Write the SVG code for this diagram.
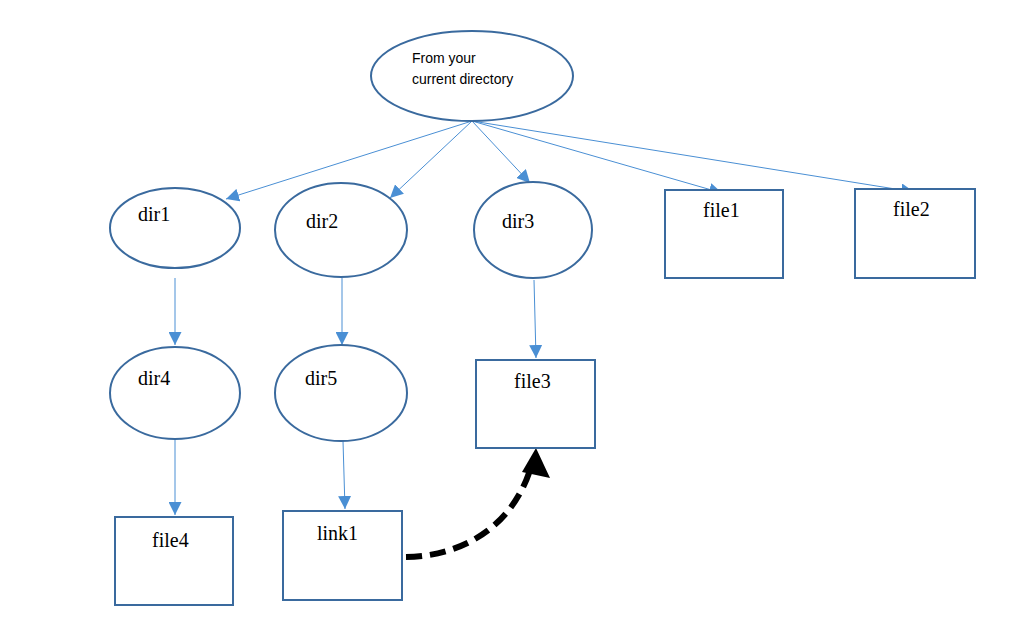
<svg xmlns="http://www.w3.org/2000/svg" width="1024" height="619" viewBox="0 0 1024 619">
<defs>
<marker id="a" viewBox="0 0 10 10" refX="10" refY="5" markerWidth="13" markerHeight="13" markerUnits="userSpaceOnUse" orient="auto"><path d="M0,0L10,5L0,10z" fill="#4a8fd4"/></marker>
<style>
.n{fill:#fff;stroke:#3a6a9e;stroke-width:2}
.t{font-family:"Liberation Serif",serif;font-size:20px;fill:#000}
.s{font-family:"Liberation Sans",sans-serif;font-size:14px;fill:#000}
.c line{stroke:#4a8fd4;stroke-width:1;marker-end:url(#a)}
</style>
</defs>
<rect width="1024" height="619" fill="#fff"/>
<g class="c" id="connectors">
<line x1="472" y1="121" x2="226" y2="199"/>
<line x1="472" y1="121" x2="390" y2="198"/>
<line x1="472" y1="121" x2="530" y2="183"/>
<line x1="472" y1="121" x2="722" y2="193"/>
<line x1="472" y1="121" x2="914" y2="192"/>
<line x1="175" y1="278" x2="175" y2="345"/>
<line x1="342" y1="278" x2="342" y2="345"/>
<line x1="534" y1="280" x2="536" y2="358"/>
<line x1="175" y1="440" x2="175" y2="515"/>
<line x1="343" y1="441" x2="345" y2="509"/>
<path d="M406,557 C465,556 512,525 530,470" fill="none" stroke="#000" stroke-width="6" stroke-dasharray="16,8"/>
<path d="M536,448 L550,478 L522,472 z" fill="#000"/>
</g>
<g id="root"><ellipse class="n" cx="472" cy="76" rx="101" ry="45"/><text class="s" x="412" y="63">From your</text><text class="s" x="412" y="84">current directory</text></g>
<g id="dir1"><ellipse class="n" cx="175" cy="228" rx="65" ry="40"/><text class="t" x="138" y="221">dir1</text></g>
<g id="dir2"><ellipse class="n" cx="341" cy="230" rx="66" ry="47"/><text class="t" x="306" y="228">dir2</text></g>
<g id="dir3"><ellipse class="n" cx="533" cy="230" rx="59" ry="48"/><text class="t" x="502" y="228">dir3</text></g>
<g id="file1"><rect class="n" x="665" y="190" width="118" height="88"/><text class="t" x="703" y="217">file1</text></g>
<g id="file2"><rect class="n" x="855" y="189" width="120" height="89"/><text class="t" x="893" y="216">file2</text></g>
<g id="dir4"><ellipse class="n" cx="175" cy="393" rx="65" ry="46"/><text class="t" x="138" y="385">dir4</text></g>
<g id="dir5"><ellipse class="n" cx="341" cy="393" rx="66" ry="48"/><text class="t" x="305" y="385">dir5</text></g>
<g id="file3"><rect class="n" x="476" y="360" width="119" height="88"/><text class="t" x="514" y="388">file3</text></g>
<g id="file4"><rect class="n" x="115" y="517" width="118" height="88"/><text class="t" x="152" y="547">file4</text></g>
<g id="link1"><rect class="n" x="283" y="511" width="119" height="89"/><text class="t" x="317" y="540">link1</text></g>
</svg>
